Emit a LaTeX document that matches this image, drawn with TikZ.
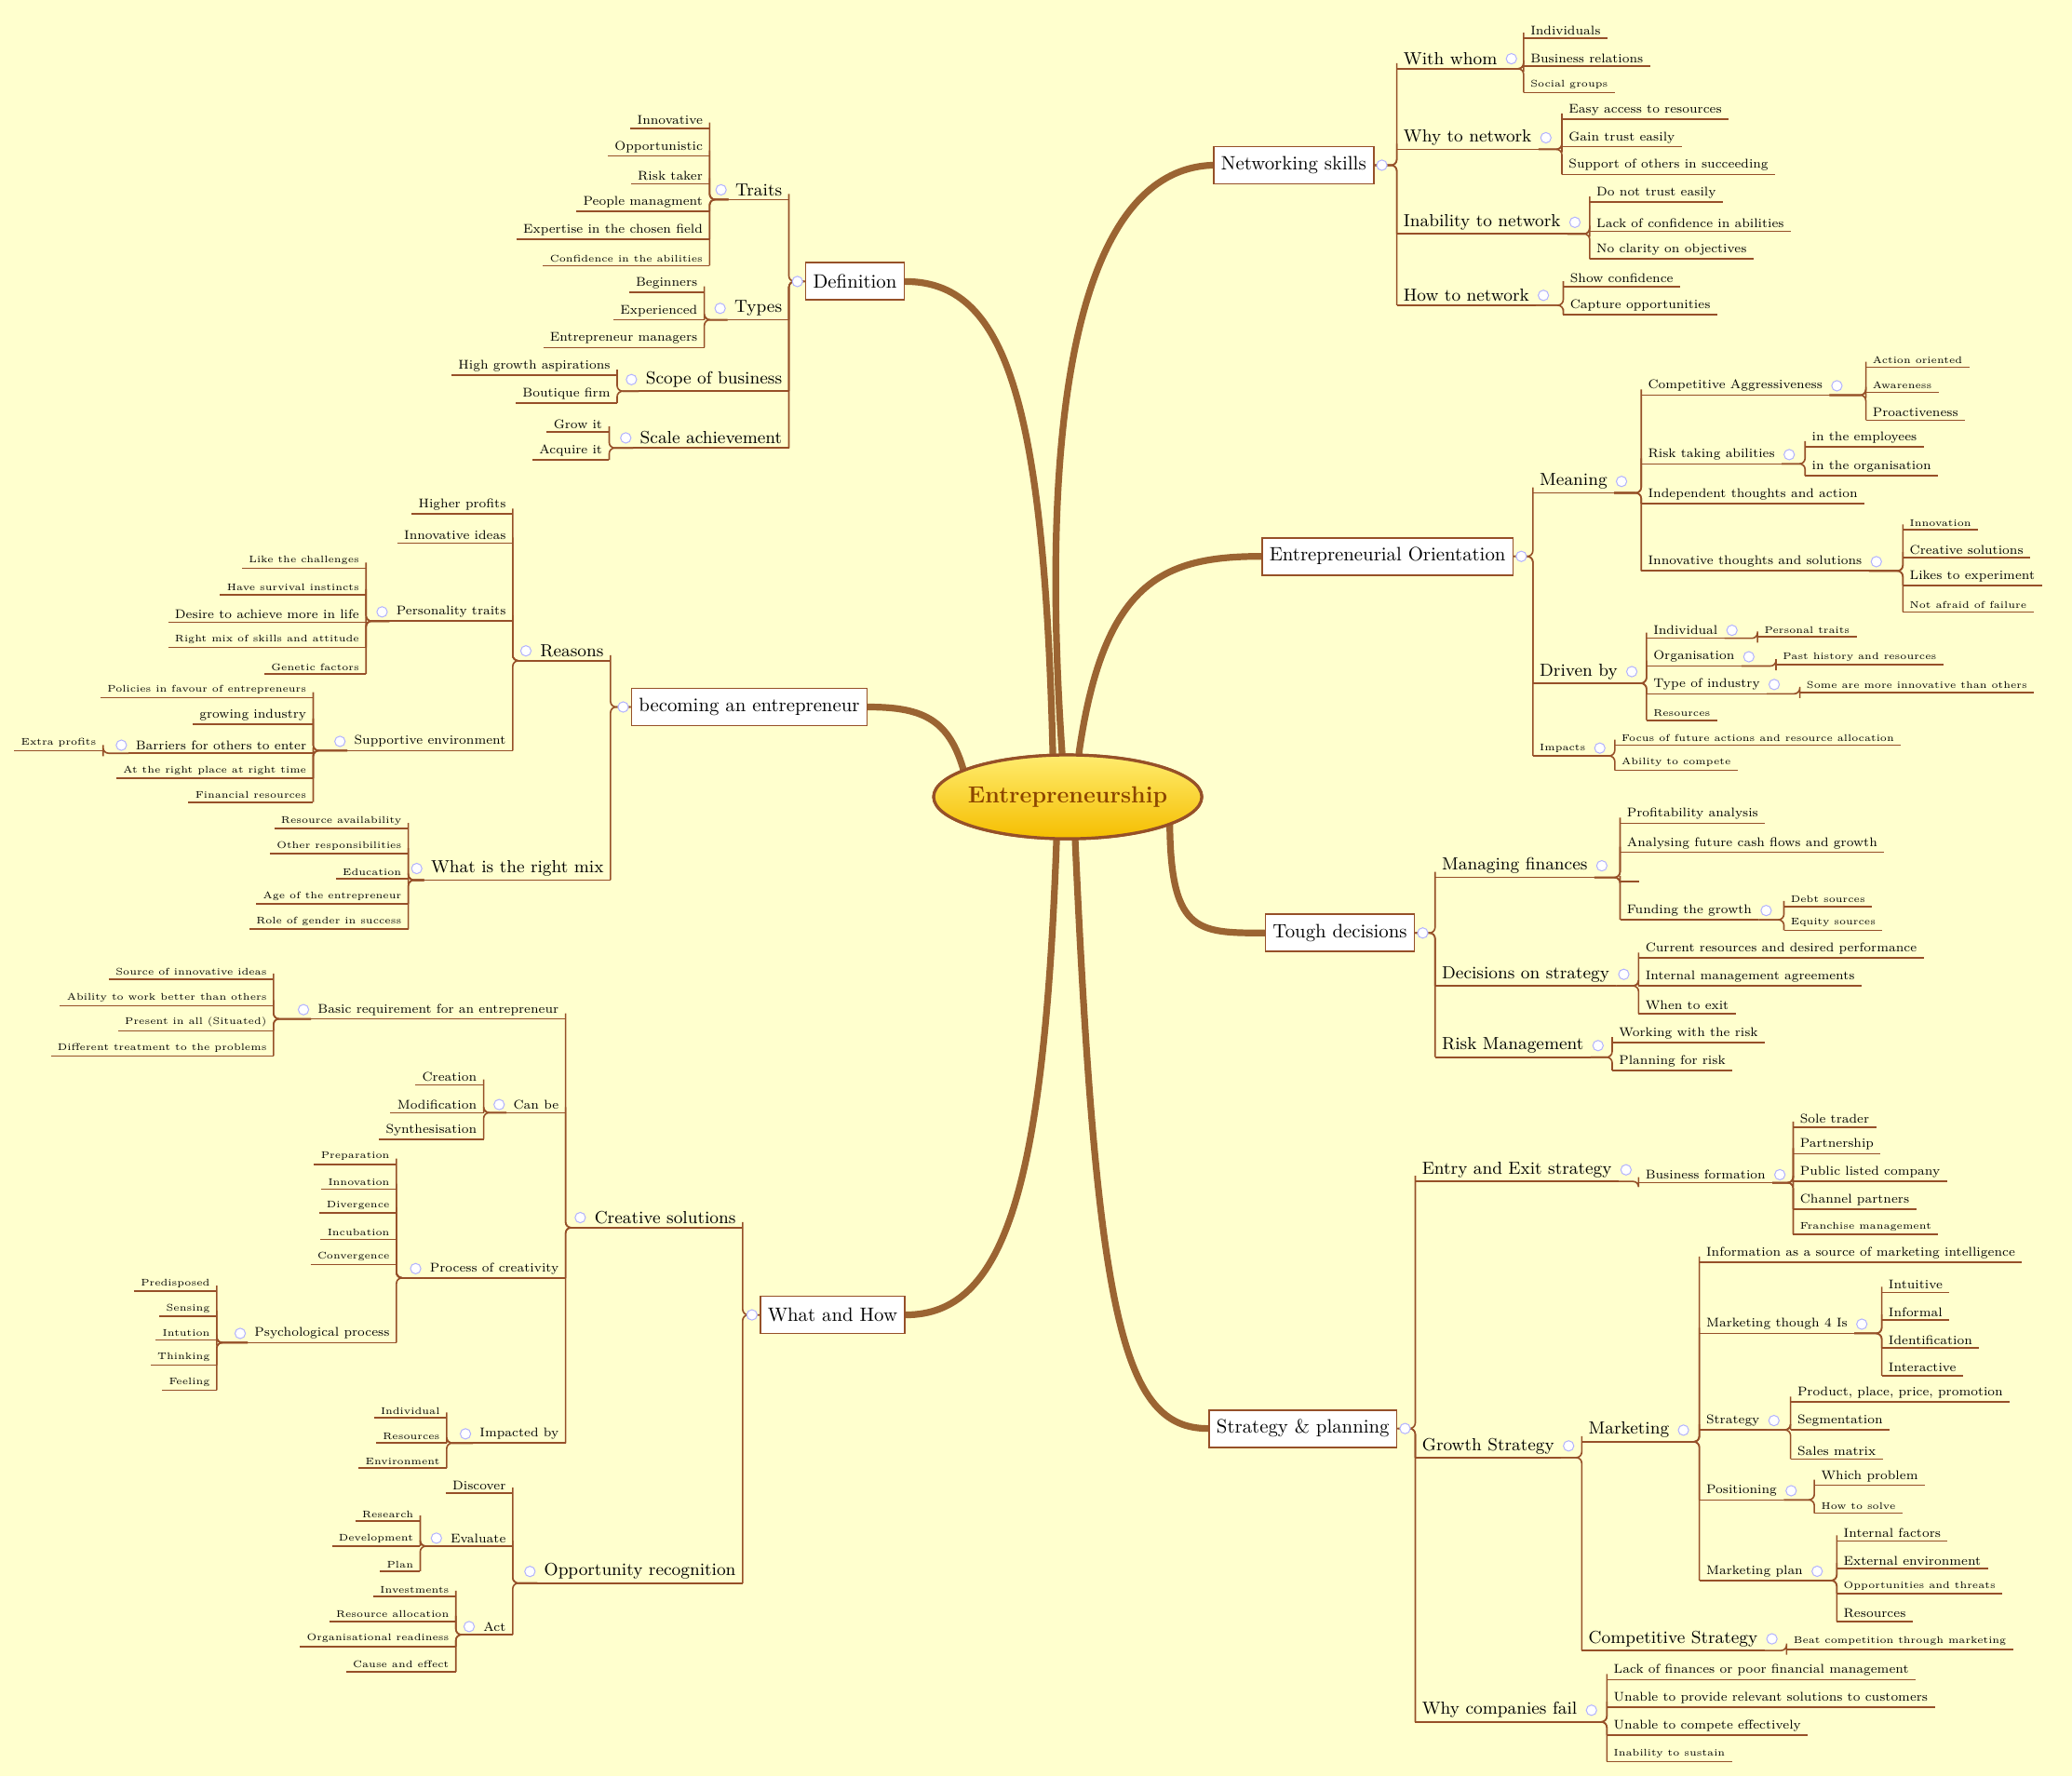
\documentclass[tikz,border=0pt]{standalone}
\usepackage{tikz}
\usetikzlibrary{shapes.geometric}
\definecolor{bg}{RGB}{255,255,206}
\definecolor{brn}{RGB}{150,80,40}
\definecolor{brch}{RGB}{155,100,50}
\definecolor{gold1}{RGB}{255,236,110}
\definecolor{gold2}{RGB}{245,190,0}
\definecolor{ctext}{RGB}{140,70,0}
\tikzset{
 link/.style={draw=brn, line width=0.8pt, rounded corners=3pt},
 ul/.style={append after command={(\tikzlastnode.south west) edge[draw=brn, line width=0.8pt] (\tikzlastnode.south east)}},
 L1/.style={draw=brn, fill=white, line width=0.9pt, font=\fontsize{10.4}{12}\selectfont, minimum height=20pt, inner xsep=4pt},
 L2/.style={ul, inner xsep=3.5pt, inner ysep=1.8pt, font=\fontsize{9.4}{11}\selectfont},
 L3/.style={ul, inner xsep=3.5pt, inner ysep=1.7pt, font=\fontsize{6.8}{8}\selectfont},
 L4/.style={ul, inner xsep=3.5pt, inner ysep=1.7pt, font=\fontsize{5.2}{6}\selectfont},
 R/.style={anchor=south west}, L/.style={anchor=south east},
 mkr/.style={draw=blue!30, fill=white, line width=0.5pt},
 branch/.style={draw=brch, line width=3.6pt, line cap=round},
 ctr/.style={ellipse, draw=brn, line width=1.6pt, top color=gold1, bottom color=gold2, inner xsep=-14pt, inner ysep=2pt, minimum width=144pt, minimum height=45pt, font=\fontsize{12.5}{14}\bfseries, text=ctext},
}
\newcommand\rl[2]{\draw[link] (#1) -- (#1 -| #2.south west) |- (#2.south west);}
\newcommand\lk[2]{\draw[link] (#1) -- (#1 -| #2.south east) |- (#2.south east);}
\newcommand\mk[1]{\draw[mkr] (#1) circle (2.8pt);}
\begin{document}
\begin{tikzpicture}[x=0.7098pt, y=-0.7098pt]
\fill[bg] (0,0) rectangle (1568,1344);
\useasboundingbox (0,0) rectangle (1568,1344);

% main topics
\node[ctr] (c) at (808,603) {Entrepreneurship};
\node[L1] (ns) at (979,125) {Networking skills};
\node[L1] (eo) at (1050,421) {Entrepreneurial Orientation};
\node[L1] (td) at (1014,706) {Tough decisions};
\node[L1] (sp) at (986,1081) {Strategy \& planning};
\node[L1] (df) at (647,213) {Definition};
\node[L1] (be) at (567,535) {becoming an entrepreneur};
\node[L1] (wh) at (630,995) {What and How};

\draw[branch] ([xshift=-3pt]c.north) .. controls (785,300) and (820,128) .. (ns.west);
\draw[branch] ([xshift=6pt]c.north) .. controls (835,440) and (880,421) .. (eo.west);
\draw[branch] ([xshift=-18pt,yshift=-10pt]c.east) .. controls (885,706) and (905,706) .. (td.west);
\draw[branch] ([xshift=4pt]c.south) .. controls (830,1000) and (850,1081) .. (sp.west);
\draw[branch] ([xshift=-8pt]c.north) .. controls (790,300) and (760,213) .. (df.east);
\draw[branch] ([xshift=18pt,yshift=10pt]c.west) .. controls (720,545) and (700,535) .. (be.east);
\draw[branch] ([xshift=-6pt]c.south) .. controls (790,900) and (760,995) .. (wh.east);
% boxes again on top of the branches
\node[ctr] at (808,603) {Entrepreneurship};
\node[L1] at (979,125) {Networking skills};
\node[L1] at (1050,421) {Entrepreneurial Orientation};
\node[L1] at (1014,706) {Tough decisions};
\node[L1] at (986,1081) {Strategy \& planning};
\node[L1] at (647,213) {Definition};
\node[L1] at (567,535) {becoming an entrepreneur};
\node[L1] at (630,995) {What and How};

% Networking skills
\node[L2,R] (ww) at (1057,52) {With whom};
\node[L2,R] (wy) at (1057,113) {Why to network};
\node[L2,R] (in) at (1057,177) {Inability to network};
\node[L2,R] (hw) at (1057,231) {How to network};
\foreach \c in {ww,wy,in,hw} {\rl{ns.east}{\c}}
\node[L3,R] (ww1) at (1153,29) {Individuals};
\node[L3,R] (ww2) at (1153,50) {Business relations};
\node[L4,R] (ww3) at (1153,70) {Social groups};
\foreach \c in {ww1,ww2,ww3} {\rl{ww.south east}{\c}}
\node[L3,R] (wy1) at (1182,90) {Easy access to resources};
\node[L3,R] (wy2) at (1182,111) {Gain trust easily};
\node[L3,R] (wy3) at (1182,132) {Support of others in succeeding};
\foreach \c in {wy1,wy2,wy3} {\rl{wy.south east}{\c}}
\node[L3,R] (in1) at (1203,153) {Do not trust easily};
\node[L3,R] (in2) at (1203,175) {Lack of confidence in abilities};
\node[L3,R] (in3) at (1203,196) {No clarity on objectives};
\foreach \c in {in1,in2,in3} {\rl{in.south east}{\c}}
\node[L3,R] (hw1) at (1183,217) {Show confidence};
\node[L3,R] (hw2) at (1183,238) {Capture opportunities};
\foreach \c in {hw1,hw2} {\rl{hw.south east}{\c}}

% Entrepreneurial Orientation
\node[L2,R] (me) at (1160,373) {Meaning};
\node[L2,R] (dr) at (1160,517) {Driven by};
\node[L4,R] (im) at (1160,572) {Impacts};
\foreach \c in {me,dr,im} {\rl{eo.east}{\c}}
\node[L3,R] (me1) at (1242,299) {Competitive Aggressiveness};
\node[L3,R] (me2) at (1242,351) {Risk taking abilities};
\node[L3,R] (me3) at (1242,381) {Independent thoughts and action};
\node[L3,R] (me4) at (1242,432) {Innovative thoughts and solutions};
\foreach \c in {me1,me2,me3,me4} {\rl{me.south east}{\c}}
\node[L4,R] (ca1) at (1412,278) {Action oriented};
\node[L4,R] (ca2) at (1412,297) {Awareness};
\node[L3,R] (ca3) at (1412,318) {Proactiveness};
\foreach \c in {ca1,ca2,ca3} {\rl{me1.south east}{\c}}
\node[L3,R] (rt1) at (1366,338) {in the employees};
\node[L3,R] (rt2) at (1366,360) {in the organisation};
\foreach \c in {rt1,rt2} {\rl{me2.south east}{\c}}
\node[L4,R] (is1) at (1440,401) {Innovation};
\node[L3,R] (is2) at (1440,422) {Creative solutions};
\node[L3,R] (is3) at (1440,443) {Likes to experiment};
\node[L4,R] (is4) at (1440,463) {Not afraid of failure};
\foreach \c in {is1,is2,is3,is4} {\rl{me4.south east}{\c}}
\node[L3,R] (dr1) at (1246,483) {Individual};
\node[L3,R] (dr2) at (1246,504) {Organisation};
\node[L3,R] (dr3) at (1246,525) {Type of industry};
\node[L4,R] (dr4) at (1246,545) {Resources};
\foreach \c in {dr1,dr2,dr3,dr4} {\rl{dr.south east}{\c}}
\node[L4,R] (pt) at (1330,482) {Personal traits};
\rl{dr1.south east}{pt}
\node[L4,R] (ph) at (1344,503) {Past history and resources};
\rl{dr2.south east}{ph}
\node[L4,R] (sm) at (1362,524) {Some are more innovative than others};
\rl{dr3.south east}{sm}
\node[L4,R] (im1) at (1222,564) {Focus of future actions and resource allocation};
\node[L4,R] (im2) at (1222,583) {Ability to compete};
\foreach \c in {im1,im2} {\rl{im.south east}{\c}}

% Tough decisions
\node[L2,R] (mf) at (1086,664) {Managing finances};
\node[L2,R] (ds) at (1086,746) {Decisions on strategy};
\node[L2,R] (rm) at (1086,800) {Risk Management};
\foreach \c in {mf,ds,rm} {\rl{td.east}{\c}}
\node[L3,R] (mf1) at (1226,623) {Profitability analysis};
\node[L3,R] (mf2) at (1226,645) {Analysing future cash flows and growth};
\node[L3,R, minimum width=10pt] (mf3) at (1226,667) {};
\node[L3,R] (mf4) at (1226,696) {Funding the growth};
\foreach \c in {mf1,mf2,mf3,mf4} {\rl{mf.south east}{\c}}
\node[L4,R] (fg1) at (1350,686) {Debt sources};
\node[L4,R] (fg2) at (1350,704) {Equity sources};
\foreach \c in {fg1,fg2} {\rl{mf4.south east}{\c}}
\node[L3,R] (ds1) at (1240,725) {Current resources and desired performance};
\node[L3,R] (ds2) at (1240,746) {Internal management agreements};
\node[L3,R] (ds3) at (1240,767) {When to exit};
\foreach \c in {ds1,ds2,ds3} {\rl{ds.south east}{\c}}
\node[L3,R] (rm1) at (1220,789) {Working with the risk};
\node[L3,R] (rm2) at (1220,810) {Planning for risk};
\foreach \c in {rm1,rm2} {\rl{rm.south east}{\c}}

% Strategy & planning
\node[L2,R] (ee) at (1071,894) {Entry and Exit strategy};
\node[L2,R] (gs) at (1071,1103) {Growth Strategy};
\node[L2,R] (wf) at (1071,1303) {Why companies fail};
\foreach \c in {ee,gs,wf} {\rl{sp.east}{\c}}
\node[L3,R] (bf) at (1240,895) {Business formation};
\rl{ee.south east}{bf}
\node[L3,R] (bf1) at (1357,853) {Sole trader};
\node[L3,R] (bf2) at (1357,873) {Partnership};
\node[L3,R] (bf3) at (1357,894) {Public listed company};
\node[L3,R] (bf4) at (1357,915) {Channel partners};
\node[L4,R] (bf5) at (1357,934) {Franchise management};
\foreach \c in {bf1,bf2,bf3,bf4,bf5} {\rl{bf.south east}{\c}}
\node[L2,R] (mk) at (1197,1091) {Marketing};
\node[L2,R] (cs) at (1197,1249) {Competitive Strategy};
\foreach \c in {mk,cs} {\rl{gs.south east}{\c}}
\node[L4,R] (cs1) at (1352,1248) {Beat competition through marketing};
\rl{cs.south east}{cs1}
\node[L3,R] (mk1) at (1286,955) {Information as a source of marketing intelligence};
\node[L3,R] (mk2) at (1286,1009) {Marketing though 4 Is};
\node[L3,R] (mk3) at (1286,1082) {Strategy};
\node[L3,R] (mk4) at (1286,1135) {Positioning};
\node[L3,R] (mk5) at (1286,1196) {Marketing plan};
\foreach \c in {mk1,mk2,mk3,mk4,mk5} {\rl{mk.south east}{\c}}
\node[L3,R] (fi1) at (1424,978) {Intuitive};
\node[L3,R] (fi2) at (1424,999) {Informal};
\node[L3,R] (fi3) at (1424,1020) {Identification};
\node[L3,R] (fi4) at (1424,1041) {Interactive};
\foreach \c in {fi1,fi2,fi3,fi4} {\rl{mk2.south east}{\c}}
\node[L3,R] (st1) at (1355,1061) {Product, place, price, promotion};
\node[L3,R] (st2) at (1355,1082) {Segmentation};
\node[L3,R] (st3) at (1355,1104) {Sales matrix};
\foreach \c in {st1,st2,st3} {\rl{mk3.south east}{\c}}
\node[L3,R] (po1) at (1373,1124) {Which problem};
\node[L4,R] (po2) at (1373,1145) {How to solve};
\foreach \c in {po1,po2} {\rl{mk4.south east}{\c}}
\node[L3,R] (mp1) at (1390,1166) {Internal factors};
\node[L3,R] (mp2) at (1390,1187) {External environment};
\node[L4,R] (mp3) at (1390,1206) {Opportunities and threats};
\node[L3,R] (mp4) at (1390,1227) {Resources};
\foreach \c in {mp1,mp2,mp3,mp4} {\rl{mk5.south east}{\c}}
\node[L3,R] (wf1) at (1216,1271) {Lack of finances or poor financial management};
\node[L3,R] (wf2) at (1216,1292) {Unable to provide relevant solutions to customers};
\node[L3,R] (wf3) at (1216,1313) {Unable to compete effectively};
\node[L4,R] (wf4) at (1216,1333) {Inability to sustain};
\foreach \c in {wf1,wf2,wf3,wf4} {\rl{wf.south east}{\c}}

% Definition
\node[L2,L] (tr) at (597,151) {Traits};
\node[L2,L] (ty) at (597,242) {Types};
\node[L2,L] (sc) at (597,296) {Scope of business};
\node[L2,L] (sa) at (597,339) {Scale achievement};
\foreach \c in {tr,ty,sc,sa} {\lk{df.west}{\c}}
\node[L3,L] (tr1) at (537,97) {Innovative};
\node[L3,L] (tr2) at (537,118) {Opportunistic};
\node[L3,L] (tr3) at (537,139) {Risk taker};
\node[L3,L] (tr4) at (537,160) {People managment};
\node[L3,L] (tr5) at (537,181) {Expertise in the chosen field};
\node[L4,L] (tr6) at (537,201) {Confidence in the abilities};
\foreach \c in {tr1,tr2,tr3,tr4,tr5,tr6} {\lk{tr.south west}{\c}}
\node[L3,L] (ty1) at (533,221) {Beginners};
\node[L3,L] (ty2) at (533,242) {Experienced};
\node[L3,L] (ty3) at (533,263) {Entrepreneur managers};
\foreach \c in {ty1,ty2,ty3} {\lk{ty.south west}{\c}}
\node[L3,L] (sc1) at (467,284) {High growth aspirations};
\node[L3,L] (sc2) at (467,305) {Boutique firm};
\foreach \c in {sc1,sc2} {\lk{sc.south west}{\c}}
\node[L3,L] (sa1) at (461,327) {Grow it};
\node[L3,L] (sa2) at (461,348) {Acquire it};
\foreach \c in {sa1,sa2} {\lk{sa.south west}{\c}}

% becoming an entrepreneur
\node[L2,L] (re) at (462,500) {Reasons};
\node[L2,L] (rx) at (462,666) {What is the right mix};
\foreach \c in {re,rx} {\lk{be.west}{\c}}
\node[L3,L] (re1) at (388,389) {Higher profits};
\node[L3,L] (re2) at (388,411) {Innovative ideas};
\node[L3,L] (re3) at (388,470) {Personality traits};
\node[L3,L] (re4) at (388,568) {Supportive environment};
\foreach \c in {re1,re2,re3,re4} {\lk{re.south west}{\c}}
\node[L4,L] (pe1) at (277,430) {Like the challenges};
\node[L4,L] (pe2) at (277,450) {Have survival instincts};
\node[L3,L] (pe3) at (277,471) {Desire to achieve more in life};
\node[L4,L] (pe4) at (277,490) {Right mix of skills and attitude};
\node[L4,L] (pe5) at (277,510) {Genetic factors};
\foreach \c in {pe1,pe2,pe3,pe4,pe5} {\lk{re3.south west}{\c}}
\node[L4,L] (se1) at (237,528) {Policies in favour of entrepreneurs};
\node[L3,L] (se2) at (237,548) {growing industry};
\node[L3,L] (se3) at (237,570) {Barriers for others to enter};
\node[L4,L] (se4) at (237,589) {At the right place at right time};
\node[L4,L] (se5) at (237,607) {Financial resources};
\foreach \c in {se1,se2,se3,se4,se5} {\lk{re4.south west}{\c}}
\node[L4,L] (ep) at (78,568) {Extra profits};
\lk{se3.south west}{ep}
\node[L4,L] (rx1) at (309,627) {Resource availability};
\node[L4,L] (rx2) at (309,646) {Other responsibilities};
\node[L4,L] (rx3) at (309,665) {Education};
\node[L4,L] (rx4) at (309,684) {Age of the entrepreneur};
\node[L4,L] (rx5) at (309,703) {Role of gender in success};
\foreach \c in {rx1,rx2,rx3,rx4,rx5} {\lk{rx.south west}{\c}}

% What and How
\node[L2,L] (cr) at (562,929) {Creative solutions};
\node[L2,L] (or) at (562,1198) {Opportunity recognition};
\foreach \c in {cr,or} {\lk{wh.west}{\c}}
\node[L3,L] (cr1) at (428,771) {Basic requirement for an entrepreneur};
\node[L3,L] (cr2) at (428,842) {Can be};
\node[L3,L] (cr3) at (428,967) {Process of creativity};
\node[L3,L] (cr4) at (428,1092) {Impacted by};
\foreach \c in {cr1,cr2,cr3,cr4} {\lk{cr.south west}{\c}}
\node[L4,L] (br1) at (207,741) {Source of innovative ideas};
\node[L4,L] (br2) at (207,761) {Ability to work better than others};
\node[L4,L] (br3) at (207,780) {Present in all (Situated)};
\node[L4,L] (br4) at (207,799) {Different treatment to the problems};
\foreach \c in {br1,br2,br3,br4} {\lk{cr1.south west}{\c}}
\node[L3,L] (cb1) at (366,821) {Creation};
\node[L3,L] (cb2) at (366,842) {Modification};
\node[L3,L] (cb3) at (366,862) {Synthesisation};
\foreach \c in {cb1,cb2,cb3} {\lk{cr2.south west}{\c}}
\node[L4,L] (pc1) at (300,881) {Preparation};
\node[L4,L] (pc2) at (300,900) {Innovation};
\node[L4,L] (pc3) at (300,918) {Divergence};
\node[L4,L] (pc4) at (300,938) {Incubation};
\node[L4,L] (pc5) at (300,957) {Convergence};
\node[L3,L] (pc6) at (300,1016) {Psychological process};
\foreach \c in {pc1,pc2,pc3,pc4,pc5,pc6} {\lk{cr3.south west}{\c}}
\node[L4,L] (pp1) at (164,977) {Predisposed};
\node[L4,L] (pp2) at (164,996) {Sensing};
\node[L4,L] (pp3) at (164,1014) {Intution};
\node[L4,L] (pp4) at (164,1033) {Thinking};
\node[L4,L] (pp5) at (164,1052) {Feeling};
\foreach \c in {pp1,pp2,pp3,pp4,pp5} {\lk{pc6.south west}{\c}}
\node[L4,L] (ib1) at (338,1073) {Individual};
\node[L4,L] (ib2) at (338,1092) {Resources};
\node[L4,L] (ib3) at (338,1111) {Environment};
\foreach \c in {ib1,ib2,ib3} {\lk{cr4.south west}{\c}}
\node[L3,L] (or1) at (388,1130) {Discover};
\node[L3,L] (or2) at (388,1170) {Evaluate};
\node[L3,L] (or3) at (388,1237) {Act};
\foreach \c in {or1,or2,or3} {\lk{or.south west}{\c}}
\node[L4,L] (ev1) at (318,1151) {Research};
\node[L4,L] (ev2) at (318,1170) {Development};
\node[L4,L] (ev3) at (318,1189) {Plan};
\foreach \c in {ev1,ev2,ev3} {\lk{or2.south west}{\c}}
\node[L4,L] (ac1) at (345,1208) {Investments};
\node[L4,L] (ac2) at (345,1227) {Resource allocation};
\node[L4,L] (ac3) at (345,1246) {Organisational readiness};
\node[L4,L] (ac4) at (345,1265) {Cause and effect};
\foreach \c in {ac1,ac2,ac3,ac4} {\lk{or3.south west}{\c}}

% collapse markers
\foreach \p in {ns,eo,td,sp,ww,wy,in,hw,me,dr,im,me1,me2,me4,dr1,dr2,dr3,mf,ds,rm,mf4,ee,gs,wf,bf,mk,cs,mk2,mk3,mk4,mk5} {\mk{[xshift=4pt]\p.east}}
\foreach \p in {df,be,wh,tr,ty,sc,sa,re,rx,re3,re4,se3,cr,or,cr1,cr2,cr3,cr4,pc6,or2,or3} {\mk{[xshift=-4pt]\p.west}}
\end{tikzpicture}
\end{document}
